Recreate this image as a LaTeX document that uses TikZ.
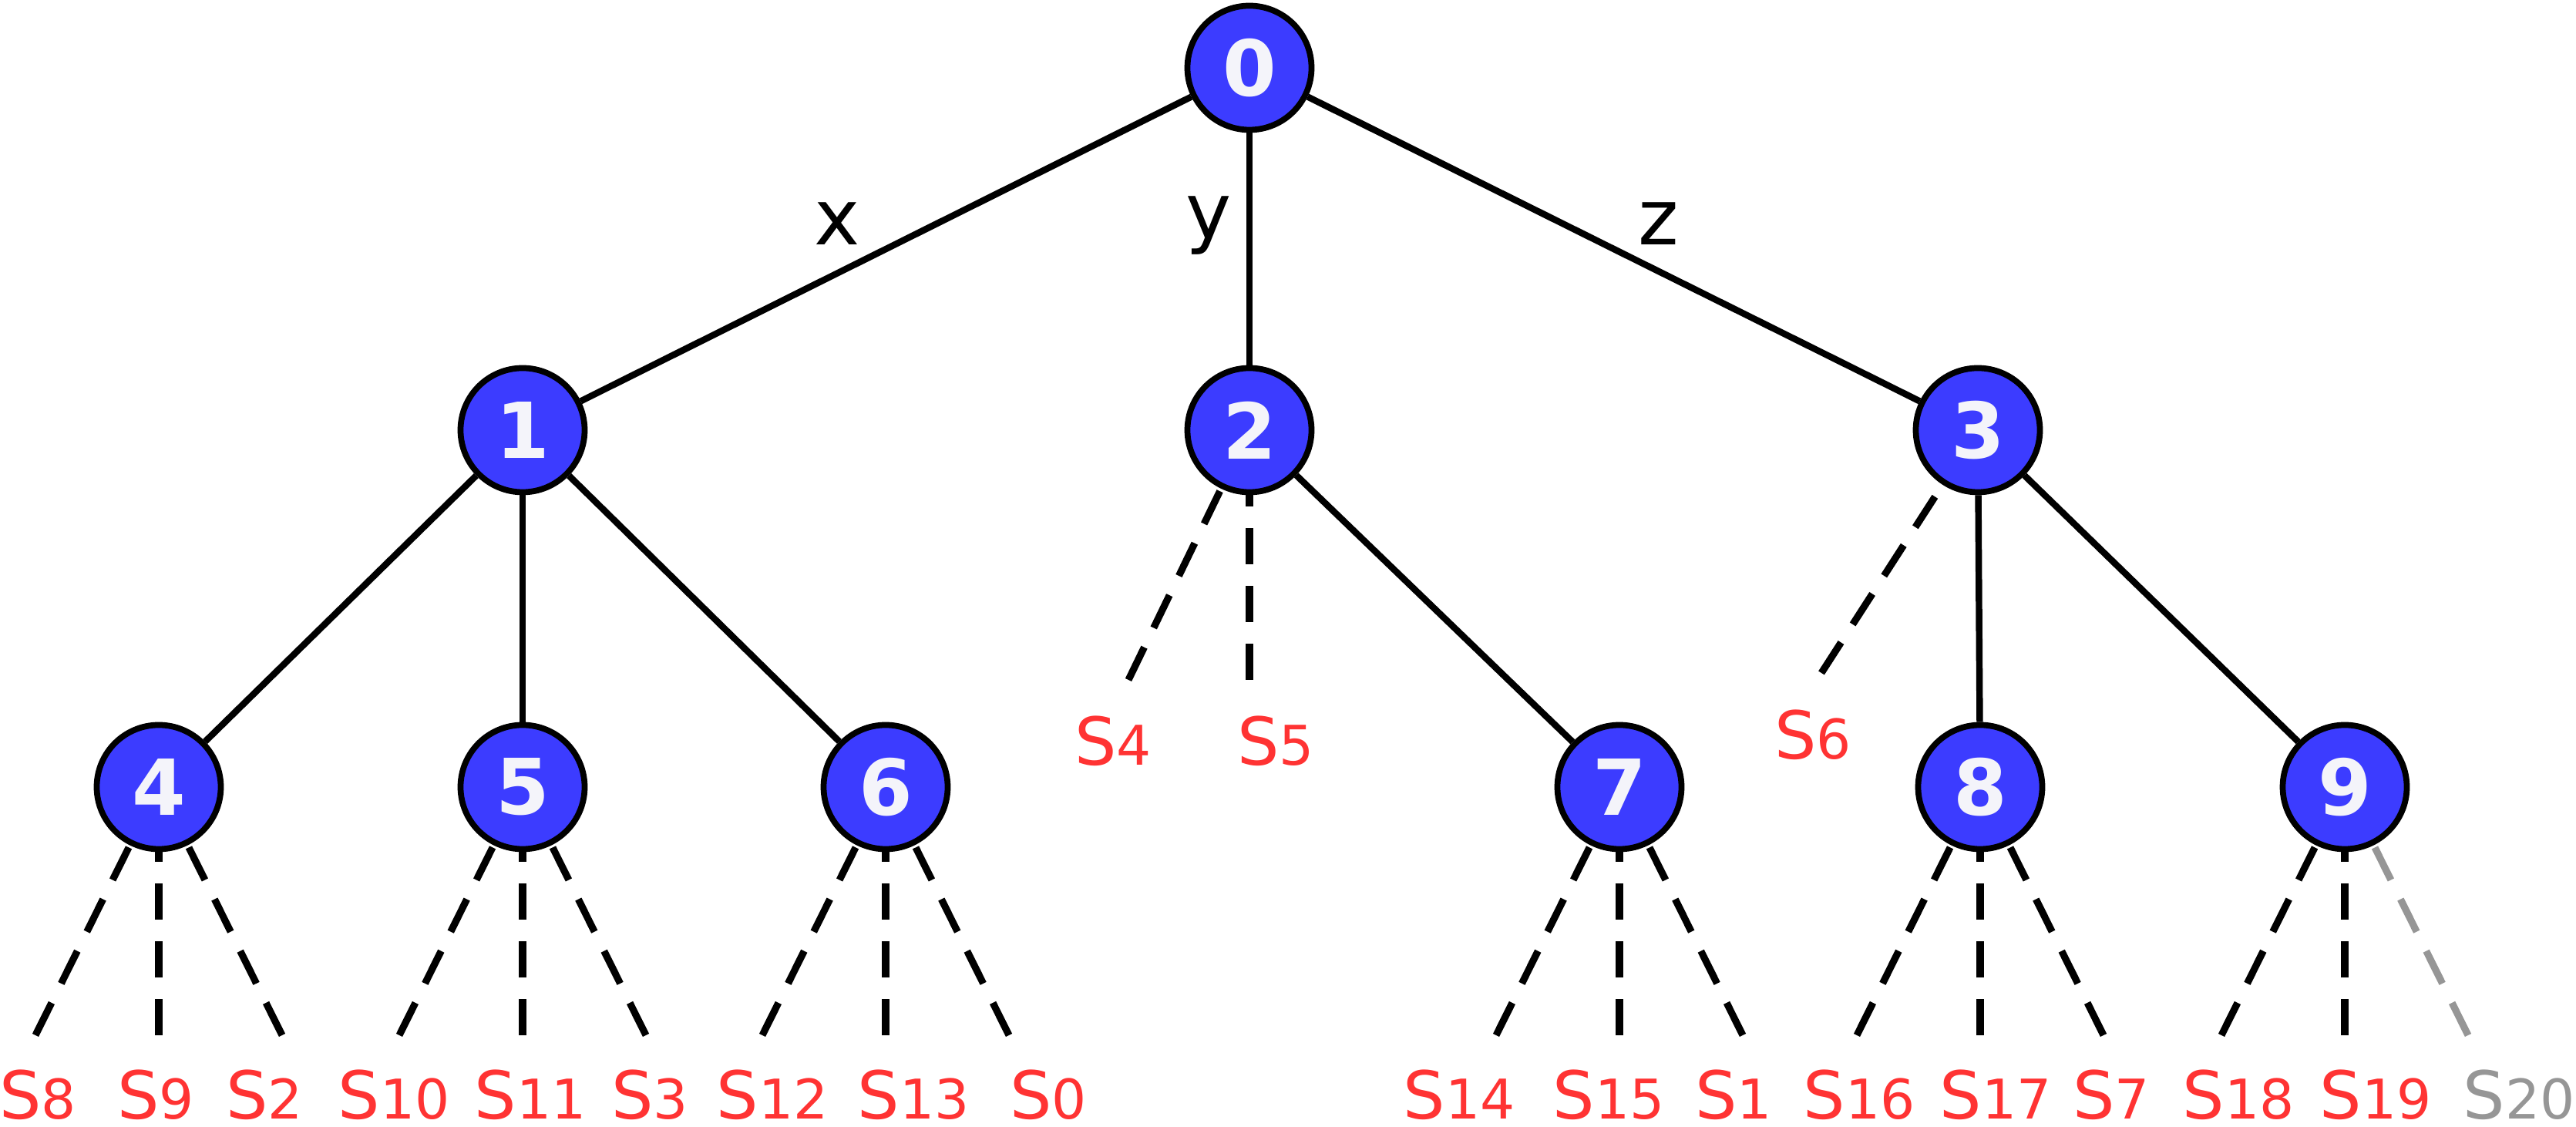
\documentclass[tikz,border=0pt]{standalone}
\usepackage{fontspec}
\setmainfont{DejaVu Sans}
\usepackage{tikz}
\definecolor{nodeblue}{RGB}{60,60,255}
\definecolor{nodetext}{RGB}{244,244,250}
\definecolor{leafred}{RGB}{255,51,51}
\definecolor{leafgray}{RGB}{150,150,150}
\newcommand{\sname}[1]{S{\fontsize{20.2}{22}\selectfont #1}}
\tikzset{
         tnode/.style={circle,draw=black,line width=2.2pt,fill=nodeblue,
          text=nodetext,minimum size=1.61cm,inner sep=0pt,
          font=\fontsize{28.5}{30}\selectfont\bfseries},
         branch/.style={line width=2.4pt},
         leafbranch/.style={line width=2.6pt,dash pattern=on 0.47cm off 0.28cm},
         leaf/.style={text=leafred,anchor=base,inner sep=0pt,
          font=\fontsize{24.4}{26}\selectfont},
         elabel/.style={anchor=base,inner sep=0pt,font=\fontsize{28.5}{30}\selectfont}
        }

\begin{document}
\begin{tikzpicture}
\useasboundingbox(0,0)rectangle(33.42,14.62);
%leaves
\coordinate(l2a)at(14.64,5.80);
\coordinate(l2b)at(16.21,5.80);
\coordinate(l3a)at(23.63,5.89);
%nodes
\node[tnode](n0)at(16.21,13.74){0};
\node[tnode](n1)at(6.78,9.04){1};
\node[tnode](n2)at(16.21,9.04){2};
\node[tnode](n3)at(25.66,9.04){3};
\foreach \n/\x in {4/2.06,5/6.78,6/11.49,7/21.01,8/25.69,9/30.42}{
\node[tnode](n\n)at(\x,4.41){\n};
}
%branches
\foreach \a/\b in {0/1,0/2,0/3,1/4,1/5,1/6,2/7,3/8,3/9}{
\draw[branch](n\a)--(n\b);
}
\node[elabel](ex)at(10.86,11.44){x};
\node[elabel](ey)at(15.68,11.52){y};
\node[elabel](ez)at(21.52,11.44){z};
\draw[leafbranch](l2a)--(n2);
\draw[leafbranch](l2b)--(n2);
\draw[leafbranch](l3a)--(n3);
\foreach \n/\x/\col in {4/2.06/black,5/6.78/black,6/11.49/black,7/21.01/black,
8/25.69/black,9/30.42/leafgray}{
\coordinate(l\n a)at(\x-1.6,1.19);
\coordinate(l\n b)at(\x,1.19);
\coordinate(l\n c)at(\x+1.6,1.19);
\draw[leafbranch](l\n a)--(n\n);
\draw[leafbranch](l\n b)--(n\n);
\draw[leafbranch,draw=\col](l\n c)--(n\n);
}
%labels
\node[leaf](s4)at(14.44,4.69){\sname{4}};
\node[leaf](s5)at(16.55,4.69){\sname{5}};
\node[leaf](s6)at(23.52,4.77){\sname{6}};
\foreach \x/\t in {0.49/8,2.02/9,3.43/2,5.11/10,6.88/11,8.43/3,10.02/12,11.85/13,
13.60/0,18.93/14,20.87/15,22.49/1,24.12/16,25.89/17,27.39/7,29.04/18,30.82/19}{
\node[leaf](s\t)at(\x,0.10){\sname{\t}};
}
\node[leaf,text=leafgray](s20)at(32.68,0.10){\sname{20}};
\end{tikzpicture}
\end{document}
